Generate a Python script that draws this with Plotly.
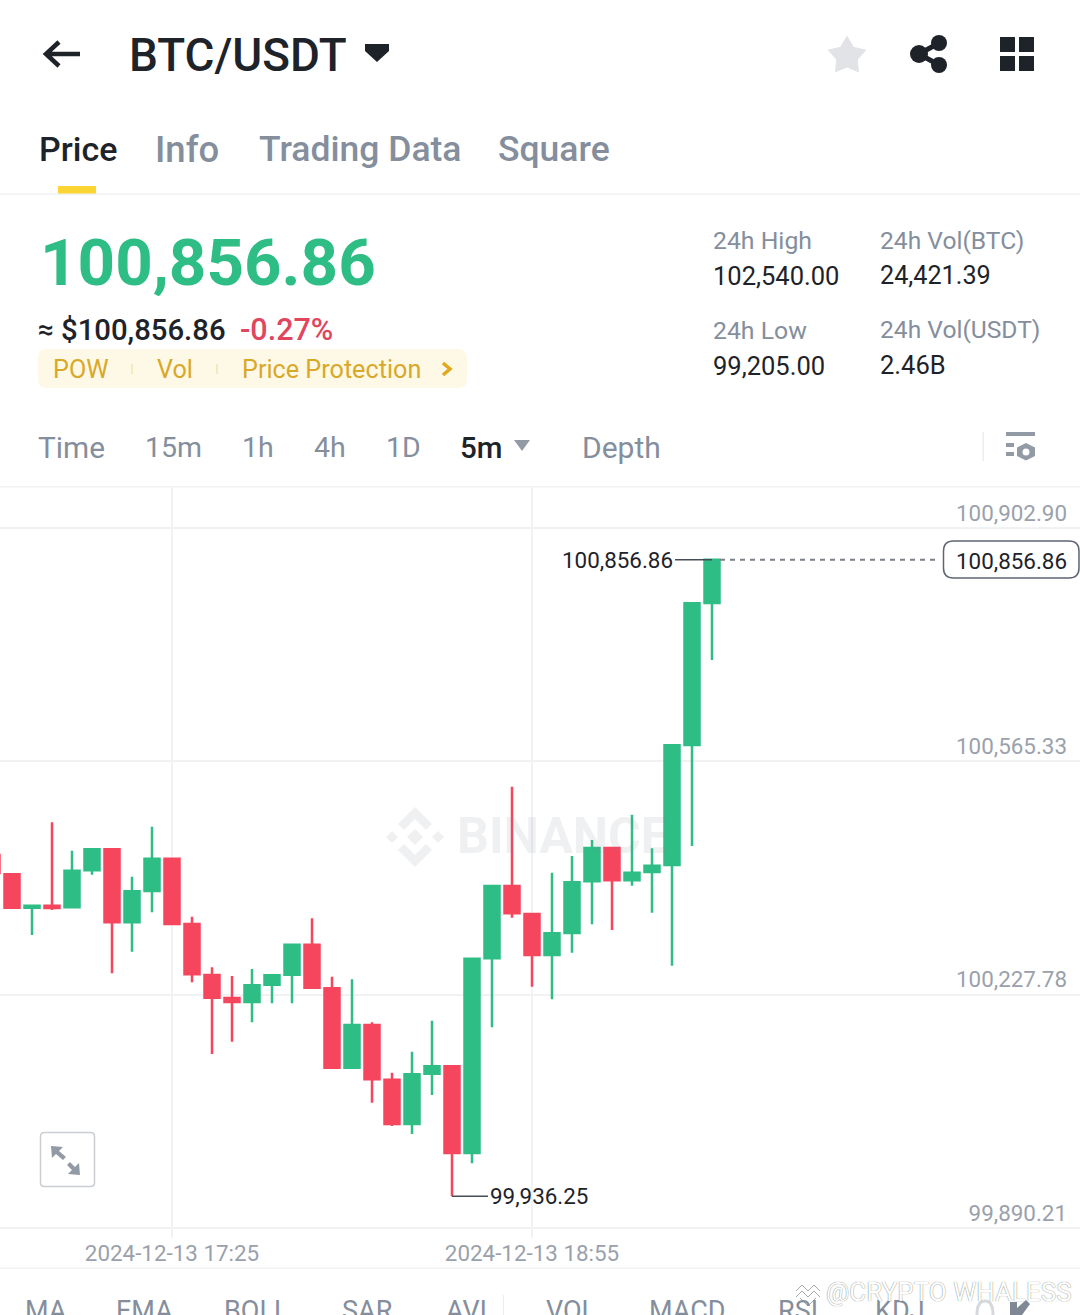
import math
import re
import pandas as pd
import plotly.graph_objects as go

# ---------- data ----------
first_candle = "2024-12-13 16:40"
candle_count = 37
open_prices = [100429.8, 100401.9, 100353.6, 100356.5, 100354.2, 100407.7, 100438.1, 100332.5, 100377.7,
               100424.5, 100330.0, 100256.2, 100223.0, 100217.2, 100242.2, 100256.7, 100300.1, 100237.0,
               100122.1, 100183.9, 100104.8, 100040.7, 100113.4, 100124.1, 99998.7, 100280.4, 100385.0,
               100344.5, 100285.2, 100317.0, 100391.8, 100440.0, 100393.2, 100405.2, 100415.4, 100589.0,
               100794.4]
high_prices = [100429.8, 100401.9, 100356.5, 100477.1, 100436.0, 100440.0, 100438.1, 100398.4, 100470.8,
               100424.5, 100340.6, 100267.4, 100254.8, 100264.9, 100255.8, 100300.1, 100338.3, 100253.8,
               100250.0, 100187.8, 100114.9, 100145.3, 100190.1, 100124.1, 100279.8, 100385.0, 100528.6,
               100344.5, 100404.2, 100428.4, 100451.5, 100440.0, 100488.1, 100439.5, 100588.5, 100794.0,
               100856.86]
low_prices = [100403.8, 100351.7, 100314.1, 100350.3, 100354.2, 100401.3, 100258.7, 100289.9, 100346.9,
              100330.0, 100245.7, 100141.9, 100159.7, 100187.8, 100215.3, 100215.3, 100237.9, 100122.1,
              100122.1, 100071.5, 100037.8, 100026.2, 100082.6, 99936.25, 99983.8, 100180.6, 100339.1,
              100239.3, 100221.1, 100288.5, 100329.6, 100321.3, 100385.4, 100346.4, 100269.7, 100442.9,
              100711.9]
close_prices = [100403.8, 100353.6, 100356.5, 100353.2, 100407.1, 100438.1, 100332.5, 100377.3, 100424.5,
                100330.0, 100257.2, 100223.4, 100217.2, 100241.3, 100255.8, 100300.1, 100237.9, 100122.1,
                100183.9, 100105.3, 100040.7, 100112.6, 100124.1, 99998.7, 100279.8, 100385.0, 100345.5,
                100285.2, 100316.6, 100390.3, 100440.0, 100393.2, 100404.2, 100414.4, 100588.5, 100794.0,
                100856.86]
price_ticks = [100902.90, 100565.33, 100227.78, 99890.21]
price_tick_labels = ["100,902.90", "100,565.33", "100,227.78", "99,890.21"]
time_ticks = ["2024-12-13 17:25", "2024-12-13 18:55"]
last_price = 100856.86
low_mark_time = "2024-12-13 18:35"
low_mark_price = 99936.25

# ---------- styles ----------
W, H = 1080, 1315
GREEN, RED = "#2EBD85", "#F6465D"
DARK, GRAY, TICK = "#1E2329", "#848E9C", "#9AA1AB"
GOLD = "#D8A928"
LINE = "#F1F2F3"
FONT = "Roboto"


def X(px):
    return px / W


def Y(py):
    return 1 - py / H


def path(d):
    tok = re.findall(r"[MLQCZ]|-?\d+\.?\d*", d)
    out, is_x = [], True
    for t in tok:
        if t in "MLQCZ":
            out.append(t)
            is_x = True
        else:
            out.append(f"{X(float(t)):.5f}" if is_x else f"{Y(float(t)):.5f}")
            is_x = not is_x
    return " ".join(out)


def round_rect(x0, y0, x1, y1, r):
    return (f"M {x0+r} {y0} L {x1-r} {y0} Q {x1} {y0} {x1} {y0+r} L {x1} {y1-r} Q {x1} {y1} {x1-r} {y1} "
            f"L {x0+r} {y1} Q {x0} {y1} {x0} {y1-r} L {x0} {y0+r} Q {x0} {y0} {x0+r} {y0} Z")


shapes, annos = [], []


def sh_path(d, fill=None, line=None, width=0, layer="above"):
    shapes.append(dict(type="path", xref="paper", yref="paper", path=path(d), layer=layer,
                       fillcolor=fill or "rgba(0,0,0,0)",
                       line=dict(color=line or "rgba(0,0,0,0)", width=width)))


def circle(cx, cy, r, fill):
    shapes.append(dict(type="circle", xref="paper", yref="paper", x0=X(cx - r), x1=X(cx + r),
                       y0=Y(cy + r), y1=Y(cy - r), fillcolor=fill, line=dict(width=0)))


def rect(x0, y0, x1, y1, fill, layer="above"):
    shapes.append(dict(type="rect", xref="paper", yref="paper", x0=X(x0), x1=X(x1), y0=Y(y1), y1=Y(y0),
                       fillcolor=fill, line=dict(width=0), layer=layer))


def txt(x, y, s, size, color, weight=400, anchor="left", font=FONT, shadow=None):
    f = dict(family=font, size=size, color=color, weight=weight)
    if shadow:
        f["shadow"] = shadow
    annos.append(dict(xref="paper", yref="paper", x=X(x), y=Y(y), text=s, showarrow=False, xanchor=anchor,
                      yanchor="middle", font=f, borderpad=0, borderwidth=0))


# ---------- header ----------
sh_path("M 80 54 L 47 54 M 59 42 L 46 54 L 59 66", line=DARK, width=4.5)
txt(129, 55, "BTC/USDT", 45.8, DARK, 500)
sh_path("M 365 44 L 389 44 L 389 51 L 377 62 L 365 51 Z", fill=DARK)
star = []
for k in range(10):
    r = 18 if k % 2 == 0 else 10
    a = -math.pi / 2 + k * math.pi / 5
    star.append(f"{'M' if k == 0 else 'L'} {847 + r * math.cos(a):.1f} {56 + r * math.sin(a):.1f}")
sh_path(" ".join(star) + " Z", fill="#E1E3E6", line="#E1E3E6", width=2.5)
sh_path("M 939 43 L 919 54 L 939 65", line=DARK, width=5)
circle(919, 54, 9, DARK)
circle(939, 43, 8, DARK)
circle(939, 65, 8, DARK)
for x0, y0 in ((1000, 37), (1019, 37), (1000, 56), (1019, 56)):
    rect(x0, y0, x0 + 15, y0 + 15, DARK)

# tabs
txt(38.5, 149, "Price", 34, DARK, 500)
txt(155, 149, "Info", 36.5, GRAY, 500)
txt(258.5, 149, "Trading Data", 35.5, GRAY, 500)
txt(497.5, 149, "Square", 35.5, GRAY, 500)
rect(58, 186, 96, 194, "#FCD535")
rect(0, 193.5, 1080, 195, LINE)

# price block
txt(40, 262.5, "100,856.86", 65.5, GREEN, 700)
txt(38, 330, "≈", 28, DARK, 500)
txt(61, 330, "$100,856.86", 29.3, DARK, 500)
txt(240, 330, "-0.27%", 30.5, "#E0475F", 500)
sh_path(round_rect(38, 349, 467, 388, 9), fill="#FEF8E7")
txt(53, 369, "POW", 25.2, GOLD)
txt(157, 369, "Vol", 25.2, GOLD)
txt(242, 369, "Price Protection", 25.2, GOLD)
rect(131, 364, 133, 374, "#F5E9C0")
rect(216, 364, 218, 374, "#F5E9C0")
sh_path("M 443 363 L 450 369 L 443 375", line="#E0A81E", width=3.5)

# 24h stats
txt(713, 241, "24h High", 24.8, GRAY)
txt(713, 276, "102,540.00", 25.5, DARK)
txt(879.5, 240, "24h Vol(BTC)", 24.6, GRAY)
txt(879.5, 275, "24,421.39", 25.2, DARK)
txt(713, 331, "24h Low", 24.8, GRAY)
txt(713, 366, "99,205.00", 25.5, DARK)
txt(879.5, 330, "24h Vol(USDT)", 24.6, GRAY)
txt(879.5, 365, "2.46B", 25.5, DARK)

# interval row
for x, s, z in ((38, "Time", 29.8), (145, "15m", 28.5), (242, "1h", 28.5), (313.5, "4h", 28.5), (386, "1D", 28.5),
                (581.5, "Depth", 30)):
    txt(x, 448, s, z, GRAY)
txt(459.5, 448, "5m", 29.5, DARK, 500)
sh_path("M 514 440 L 530 440 L 522 451 Z", fill="#929AA5")
rect(982.5, 432, 984, 461, "#ECEDEF")
rect(1006, 432, 1035, 436, "#929AA5")
rect(1006, 443, 1014, 447, "#929AA5")
rect(1006, 452, 1014, 456, "#929AA5")
sh_path("M 1026 443 L 1035 447.5 L 1035 456 L 1026 460.5 L 1017 456 L 1017 447.5 Z", fill="#929AA5")
circle(1026, 452, 3.5, "#FFFFFF")

# chart frame
rect(0, 486, 1080, 487.5, LINE)
rect(0, 1267.5, 1080, 1269, LINE)

# Binance watermark
WM = "#EFF0F2"
sh_path("M 415 807 L 432 824 L 426 830 L 415 819 L 404 830 L 398 824 Z", fill=WM, layer="below")
sh_path("M 415 867 L 432 850 L 426 844 L 415 855 L 404 844 L 398 850 Z", fill=WM, layer="below")
sh_path("M 415 829 L 423 837 L 415 845 L 407 837 Z", fill=WM, layer="below")
sh_path("M 392 831 L 398 837 L 392 843 L 386 837 Z", fill=WM, layer="below")
sh_path("M 438 831 L 444 837 L 438 843 L 432 837 Z", fill=WM, layer="below")
txt(457, 836, "BINANCE", 50, "rgba(132,142,156,0.13)", 700)

# expand button
sh_path(round_rect(40.5, 1132.5, 94.5, 1186.5, 4), fill="#FFFFFF", line="#C9CDD2", width=1.5)
sh_path("M 51 1146 L 63 1147 L 59 1151 L 66 1157 L 63 1160 L 56 1154 L 52 1158 Z", fill="#929AA5")
sh_path("M 80 1175 L 68 1174 L 72 1170 L 67 1165 L 70 1162 L 75 1167 L 79 1163 Z", fill="#929AA5")

# current price tag
sh_path(round_rect(943.5, 541, 1079, 578, 10), fill="#FFFFFF", line="#5E6673", width=1.5)
txt(1011.5, 561, "100,856.86", 22.4, DARK, anchor="center")

# indicator strip
for x, s in ((25, "MA"), (116, "EMA"), (224, "BOLL"), (342, "SAR"), (446, "AVL"), (546, "VOL"),
             (649, "MACD"), (778, "RSI"), (875, "KDJ")):
    txt(x, 1311, s, 27, GRAY)
rect(503, 1295, 504, 1315, "#ECEDEF")
circle(985, 1310, 8, "#FFFFFF")
sh_path("M 977 1315 Q 977 1301 985 1301 Q 993 1301 993 1315", line="#D5D8DC", width=3)
sh_path("M 1010 1315 L 1010 1302 L 1017 1302 L 1017 1308 L 1026 1300 L 1030 1304 L 1022 1315 Z", fill="#7F8894")

# image watermark
txt(826, 1292, "@CRYPTO WHALESS", 26, "#FFFFFF", shadow="0 0 1px #555555")
for dy in (0, 6):
    sh_path(f"M 796 {1291+dy} L 802 {1285+dy} L 808 {1291+dy} L 814 {1285+dy} L 820 {1291+dy}", line="#A9A9A9", width=1)
sh_path("M 800 1298 L 808 1306 L 816 1298", line="#A9A9A9", width=1)

# ---------- chart ----------
times = pd.date_range(first_candle, periods=candle_count, freq="5min")
fig = go.Figure()
fig.add_trace(go.Scatter(x=[times[-1] + pd.Timedelta(minutes=2), times[-1] + pd.Timedelta(minutes=56)],
                         y=[last_price, last_price], mode="lines", hoverinfo="skip",
                         line=dict(color="#7C8088", width=2, dash="5px,5px")))
fig.add_trace(go.Candlestick(
    x=times, open=open_prices, high=high_prices, low=low_prices, close=close_prices,
    increasing=dict(line=dict(color=GREEN, width=2.5), fillcolor=GREEN),
    decreasing=dict(line=dict(color=RED, width=2.5), fillcolor=RED),
    whiskerwidth=0))

annos.append(dict(x=times[-1], y=last_price, xref="x", yref="y", text="100,856.86", showarrow=True, arrowhead=0,
                  arrowwidth=1.5, arrowcolor="#474D57", ax=-37, ay=0, xanchor="right", yanchor="middle",
                  standoff=0, font=dict(family=FONT, size=22.4, color=DARK)))
annos.append(dict(x=low_mark_time, y=low_mark_price, xref="x", yref="y", text="99,936.25", showarrow=True, arrowhead=0,
                  arrowwidth=1.5, arrowcolor="#474D57", ax=36, ay=0, xanchor="left", yanchor="middle",
                  standoff=0, font=dict(family=FONT, size=22.4, color=DARK)))

fig.update_layout(
    width=W, height=H, margin=dict(l=0, r=0, t=0, b=0), paper_bgcolor="#FFFFFF", plot_bgcolor="#FFFFFF",
    showlegend=False, hovermode=False, boxgap=0.25, boxgroupgap=0, shapes=shapes, annotations=annos,
    font=dict(family=FONT),
    xaxis=dict(domain=[0, 1], type="date", range=["2024-12-13 16:42", "2024-12-13 21:12"],
               rangeslider=dict(visible=False), tickmode="array", tickvals=time_ticks, ticktext=time_ticks,
               showgrid=True, gridcolor=LINE, gridwidth=1.5, zeroline=False, showline=False, ticks="",
               tickfont=dict(family=FONT, size=22.4, color=TICK), fixedrange=True, anchor="y"),
    yaxis=dict(domain=[Y(1238), Y(487)], range=[99875.7, 100962.2], side="right", tickmode="array",
               tickvals=price_ticks, ticktext=price_tick_labels, ticklabelposition="inside",
               ticklabelstandoff=10, ticklabelshift=-15, showgrid=True, gridcolor=LINE, gridwidth=1.5,
               zeroline=False, showline=False, ticks="", tickfont=dict(family=FONT, size=22.4, color=TICK),
               fixedrange=True, anchor="x"),
)

fig.write_html("out.html", config=dict(displayModeBar=False),
               post_script="document.body.style.margin='0';document.documentElement.style.overflow='hidden';")
